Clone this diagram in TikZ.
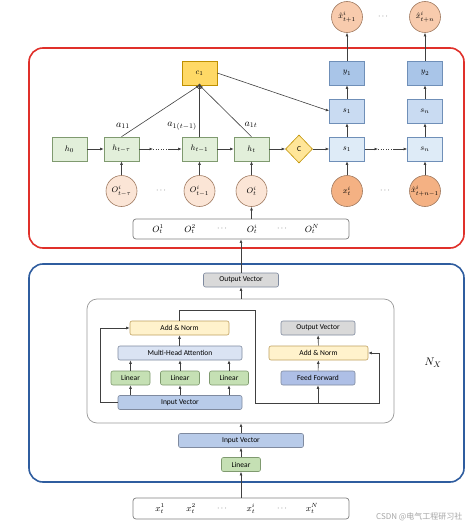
\documentclass[tikz,border=0pt]{standalone}
\usepackage{fontspec}
\setmainfont{Carlito}
\newfontfamily\cjk{Noto Sans CJK SC}
\usetikzlibrary{arrows.meta,shapes.geometric}
\definecolor{linec}{HTML}{404040}
\definecolor{hgreen}{HTML}{E2EFDA}
\definecolor{hgreenb}{HTML}{7F9A6F}
\definecolor{lgreen}{HTML}{C5E0B4}
\definecolor{cyel}{HTML}{FFD966}
\definecolor{cyelb}{HTML}{BF9000}
\definecolor{dyel}{HTML}{FFE699}
\definecolor{yblue}{HTML}{A9C5E8}
\definecolor{ybblue}{HTML}{6F8FB8}
\definecolor{supb}{HTML}{C9DBF2}
\definecolor{slowb}{HTML}{DEEBF7}
\definecolor{opeach}{HTML}{FBE5D6}
\definecolor{opeachb}{HTML}{A07A60}
\definecolor{xorange}{HTML}{F4B183}
\definecolor{xhpeach}{HTML}{F8CBAD}
\definecolor{anfill}{HTML}{FFF2CC}
\definecolor{anb}{HTML}{BFA060}
\definecolor{mhafill}{HTML}{DAE3F3}
\definecolor{ivfill}{HTML}{B8CBE9}
\definecolor{fffill}{HTML}{AEBFE6}
\definecolor{boxb}{HTML}{7F8A9F}
\definecolor{ovfill}{HTML}{D9D9D9}
\definecolor{redb}{HTML}{E0302A}
\definecolor{blueb}{HTML}{2F5D9F}
\begin{document}
\begin{tikzpicture}[x=1pt,y=-1pt,
  arr/.style={draw=linec, line width=0.6pt, -{Latex[length=3.5pt,width=2.8pt]}},
  plain/.style={draw=linec, line width=0.6pt},
  sq/.style={draw, line width=0.6pt, minimum width=35pt, minimum height=24pt, inner sep=0pt, font=\fontsize{8.5}{9}\selectfont},
  hbox/.style={sq, fill=hgreen, draw=hgreenb},
  cbox/.style={sq, fill=cyel, draw=cyelb},
  ybox/.style={sq, fill=yblue, draw=ybblue},
  supbox/.style={sq, fill=supb, draw=ybblue},
  slowbox/.style={sq, fill=slowb, draw=ybblue},
  diam/.style={diamond, draw=cyelb, fill=dyel, line width=0.6pt, minimum width=27pt, minimum height=28pt, inner sep=0pt, font=\fontsize{7.5}{8}\selectfont},
  circ/.style={circle, draw=opeachb, line width=0.6pt, minimum size=31pt, inner sep=0pt, font=\fontsize{8.5}{9}\selectfont},
  ocirc/.style={circ, fill=opeach},
  xcirc/.style={circ, fill=xorange},
  xhcirc/.style={circ, fill=xhpeach},
  dotl/.style={font=\fontsize{8}{8}\selectfont, text=linec},
  alab/.style={font=\fontsize{10}{10}\selectfont},
  vlab/.style={font=\fontsize{9}{9}\selectfont},
  rbox/.style={draw, line width=0.6pt, rounded corners=2pt, inner sep=0pt, minimum height=14pt, font=\fontsize{7.5}{8}\selectfont},
  ovbox/.style={rbox, fill=ovfill, draw=boxb},
  anbox/.style={rbox, fill=anfill, draw=anb},
  mhabox/.style={rbox, fill=mhafill, draw=boxb},
  ivbox/.style={rbox, fill=ivfill, draw=boxb},
  ffbox/.style={rbox, fill=fffill, draw=boxb},
  linbox/.style={rbox, fill=lgreen, draw=hgreenb, minimum width=39pt},
  rowbox/.style={draw=gray, line width=0.7pt, rounded corners=3pt, fill=white, minimum width=216pt, inner sep=0pt}
]
\useasboundingbox (0,0) rectangle (474,527);
\fill[white] (0,0) rectangle (474,527);

% frames
\draw[redb, line width=1.6pt, rounded corners=14pt] (29,48) rectangle (464,248);
\draw[blueb, line width=1.6pt, rounded corners=14pt] (29,264) rectangle (464,482);

% ---------- top part ----------
\node[xhcirc] (xa) at (347,17) {$\hat{x}^{i}_{t+1}$};
\node[xhcirc] (xb) at (425,17) {$\hat{x}^{i}_{t+n}$};
\node[dotl] (d0) at (383,17) {$\cdots$};

\node[ybox] (y1) at (347,73) {$y_1$};
\node[ybox] (y2) at (425,73) {$y_2$};
\node[supbox] (su1) at (347,111) {$s_1$};
\node[supbox] (sun) at (425,111) {$s_n$};
\node[cbox] (c1) at (199.5,73) {$c_1$};

\node[hbox] (h0) at (69.5,149) {$h_0$};
\node[hbox] (htau) at (121.5,149) {$h_{t-\tau}$};
\node[hbox] (hm1) at (199.5,149) {$h_{t-1}$};
\node[hbox] (ht) at (251.5,149) {$h_t$};
\node[diam] (C) at (299,149) {C};
\node[slowbox] (sl1) at (347,149) {$s_1$};
\node[slowbox] (sln) at (425,149) {$s_n$};

\node[ocirc] (o1) at (121.5,191) {$O^{i}_{t-\tau}$};
\node[ocirc] (o2) at (199.5,191) {$O^{i}_{t-1}$};
\node[ocirc] (o3) at (251.5,191) {$O^{i}_{t}$};
\node[xcirc] (x1) at (347,191) {$x^{i}_{t}$};
\node[xcirc, font=\fontsize{8}{8}\selectfont] (x2) at (425,191) {$\hat{x}^{i}_{t+n-1}$};
\node[dotl] (d1) at (161,191) {$\cdots$};
\node[dotl] (d2) at (385,191) {$\cdots$};

\node[alab] (a1) at (123,126) {$a_{11}$};
\node[alab] (a2) at (182,126) {$a_{1(t-1)}$};
\node[alab] (a3) at (251,125) {$a_{1t}$};

% O row
\node[rowbox, minimum height=20pt] (obox) at (241,229) {};
\node[vlab] (ol1) at (158,229) {$O^{1}_{t}$};
\node[vlab] (ol2) at (190,229) {$O^{2}_{t}$};
\node[dotl] (ol3) at (222,229) {$\cdots$};
\node[vlab] (ol4) at (252,229) {$O^{i}_{t}$};
\node[dotl] (ol5) at (282,229) {$\cdots$};
\node[vlab] (ol6) at (312,229) {$O^{N}_{t}$};

% connectors top part
\draw[arr] (y1) -- (xa);
\draw[arr] (y2) -- (xb);
\draw[arr] (su1) -- (y1);
\draw[arr] (sun) -- (y2);
\draw[arr] (sl1) -- (su1);
\draw[arr] (sln) -- (sun);
\draw[arr] (x1) -- (sl1);
\draw[arr] (x2) -- (sln);
\draw[arr] (o1) -- (htau);
\draw[arr] (o2) -- (hm1);
\draw[arr] (o3) -- (ht);
\draw[arr] (h0) -- (htau);
\draw[arr] (hm1) -- (ht);
\draw[arr] (ht) -- (C);
\draw[arr] (C) -- (sl1);
\coordinate (ha) at (153,149);
\coordinate (hb) at (168,149);
\draw[arr] (htau.east) -- (ha);
\draw[plain, dotted, line width=0.9pt] (ha) -- (hb);
\draw[arr] (hb) -- (hm1.west);
\coordinate (sa) at (378,149);
\coordinate (sb) at (393,149);
\draw[arr] (sl1.east) -- (sa);
\draw[plain, dotted, line width=0.9pt] (sa) -- (sb);
\draw[arr] (sb) -- (sln.west);
\draw[arr] (htau.north) -- (c1.south);
\draw[arr] (hm1.north) -- (c1.south);
\draw[arr] (ht.north) -- (c1.south);
\fill[linec] (c1.south) circle (1.6pt);
\draw[arr] (c1.east) -- (su1.west);
\draw[arr] (obox.north -| o3) -- (o3);

% ---------- encoder part ----------
\node[ovbox, minimum width=75pt] (ov) at (241,280) {Output Vector};
\node[draw=gray!80, line width=0.7pt, rounded corners=10pt, minimum width=307pt, minimum height=124pt, inner sep=0pt] (enc) at (240.5,361) {};
\draw[arr] (enc.north -| ov) -- (ov);
\draw[arr] (ov) -- (obox.south -| ov);

\node[anbox, minimum width=99pt] (an1) at (179.5,328) {Add \& Norm};
\node[mhabox, minimum width=124pt] (mha) at (180,353) {Multi-Head Attention};
\node[linbox] (l1) at (130.5,378) {Linear};
\node[linbox] (l2) at (180,378) {Linear};
\node[linbox] (l3) at (229,378) {Linear};
\node[ivbox, minimum width=124pt] (iv) at (180,402.5) {Input Vector};

\node[ovbox, minimum width=74pt] (ov2) at (318,328) {Output Vector};
\node[anbox, minimum width=99pt] (an2) at (318.5,353) {Add \& Norm};
\node[ffbox, minimum width=74pt] (ff) at (318,378) {Feed Forward};

\draw[arr] (iv.north -| l1) -- (l1);
\draw[arr] (iv.north -| l2) -- (l2);
\draw[arr] (iv.north -| l3) -- (l3);
\draw[arr] (l1) -- (mha.south -| l1);
\draw[arr] (l2) -- (mha.south -| l2);
\draw[arr] (l3) -- (mha.south -| l3);
\draw[arr] (mha.north -| an1) -- (an1);
\coordinate (rl) at (100,402.5);
\draw[arr] (iv.west) -- (rl) |- (an1.west);
\coordinate (tp) at (255,310);
\coordinate (bp) at (255,403);
\coordinate (rp) at (379,403);
\coordinate (fp) at (318,403);
\draw[arr] (an1.north) |- (tp) -- (bp) -- (rp) |- (an2.east);
\draw[arr] (fp) -- (ff);
\draw[arr] (ff) -- (an2);
\draw[arr] (an2) -- (ov2);

\node[font=\fontsize{11}{11}\selectfont] (nx) at (433,363) {$N_X$};

% bottom
\node[ivbox, minimum width=125pt] (iv2) at (241,440.5) {Input Vector};
\node[linbox] (lin) at (241,464.5) {Linear};
\node[rowbox, minimum height=21pt] (xbox) at (241,508.5) {};
\node[vlab] (xl1) at (160,508.5) {$x^{1}_{t}$};
\node[vlab] (xl2) at (191,508.5) {$x^{2}_{t}$};
\node[dotl] (xl3) at (222,508.5) {$\cdots$};
\node[vlab] (xl4) at (251,508.5) {$x^{i}_{t}$};
\node[dotl] (xl5) at (282,508.5) {$\cdots$};
\node[vlab] (xl6) at (312,508.5) {$x^{N}_{t}$};
\draw[arr] (xbox) -- (lin);
\draw[arr] (lin) -- (iv2);
\draw[arr] (iv2) -- (enc.south -| iv2);

\node[anchor=east, text=gray!70, font=\cjk\fontsize{8}{8}\selectfont] (wm) at (466,517) {CSDN @电气工程研习社};
\end{tikzpicture}
\end{document}
